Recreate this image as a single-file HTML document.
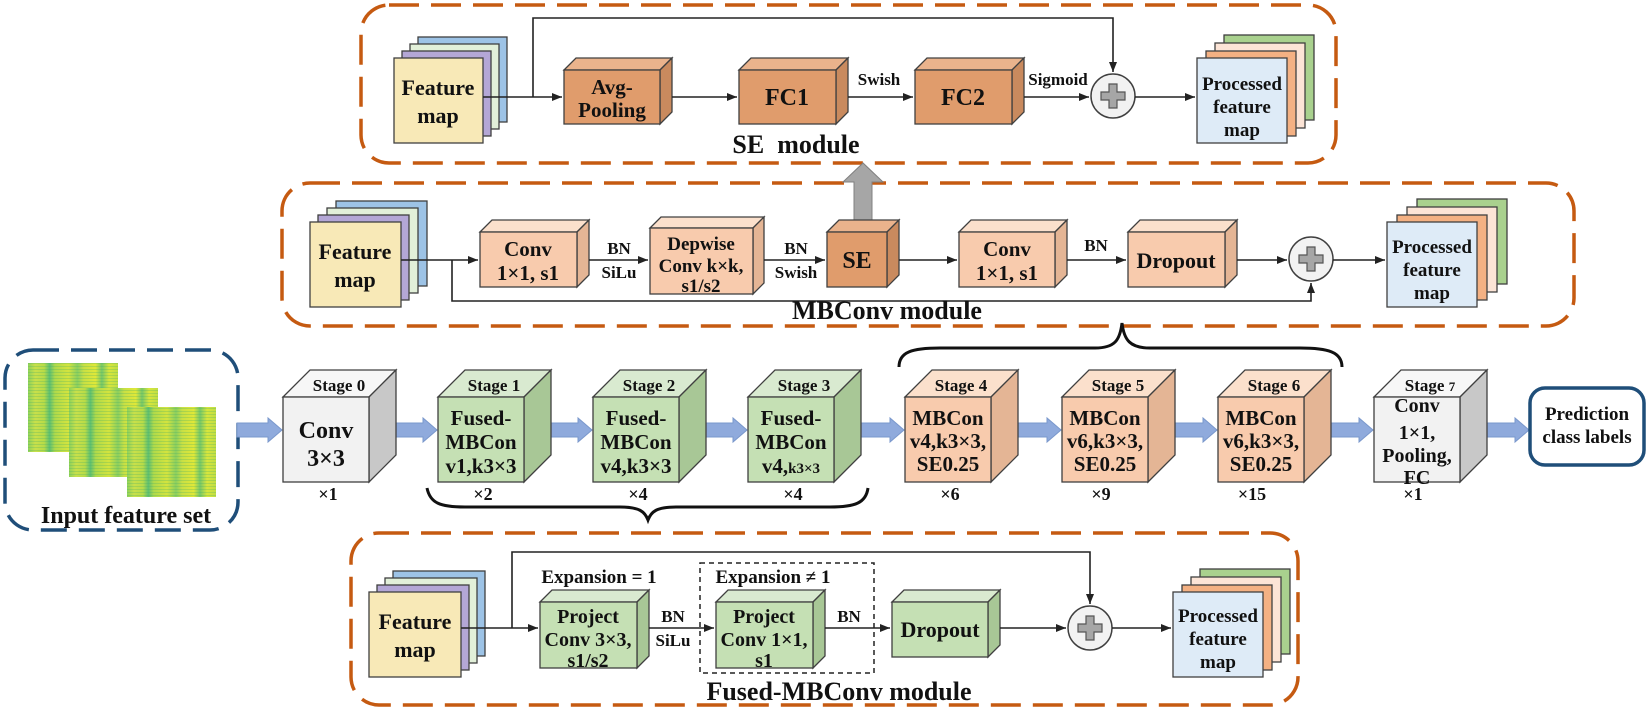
<!DOCTYPE html>
<html><head><meta charset="utf-8"><style>
html,body{margin:0;padding:0;background:#fff;}
svg{display:block;}
text{font-family:"Liberation Serif",serif;font-weight:bold;fill:#111;text-anchor:middle;}
.st{stroke:#404040;stroke-width:1.3;}
.ln{stroke:#222;stroke-width:1.6;fill:none;}
.dor{fill:none;stroke:#c55a11;stroke-width:3.5;stroke-dasharray:30 12;}
.ba{fill:#8faadc;stroke:#7a98cc;stroke-width:1;}
</style></head><body>
<svg width="1651" height="718" viewBox="0 0 1651 718" xmlns="http://www.w3.org/2000/svg">
<defs>
<marker id="ar" viewBox="0 0 10 10" refX="10" refY="5" markerWidth="10" markerHeight="10" markerUnits="userSpaceOnUse" orient="auto"><path d="M0,1 L10,5 L0,9 z" fill="#222"/></marker>
<linearGradient id="spec" x1="0" y1="0" x2="1" y2="0">
<stop offset="0" stop-color="#8fd25a"/><stop offset="0.08" stop-color="#c9e04a"/><stop offset="0.18" stop-color="#b8dc48"/><stop offset="0.24" stop-color="#5fc070"/><stop offset="0.3" stop-color="#b0da4a"/><stop offset="0.45" stop-color="#d4e43e"/><stop offset="0.55" stop-color="#8ccf5e"/><stop offset="0.62" stop-color="#c8e044"/><stop offset="0.75" stop-color="#e0e838"/><stop offset="0.82" stop-color="#78c866"/><stop offset="0.9" stop-color="#d8e63c"/><stop offset="1" stop-color="#c0de44"/>
</linearGradient>
<pattern id="hl" width="4" height="3" patternUnits="userSpaceOnUse"><rect width="4" height="1" fill="#3aa86a" opacity="0.25"/></pattern>
<g id="plus"><circle r="22" fill="#f2f2f2" stroke="#404040" stroke-width="1.5"/><path d="M-4,-12 H4 V-4 H12 V4 H4 V12 H-4 V4 H-12 V-4 H-4 z" fill="#a6a6a6" stroke="#555" stroke-width="1.2"/></g>
</defs>

<!-- ============ SE module ============ -->
<rect class="dor" x="361" y="5" width="975" height="158" rx="28"/>
<rect class="st" x="418" y="37" width="89" height="85" fill="#9dc3e6"/>
<rect class="st" x="410" y="44" width="89" height="85" fill="#e2f0d9"/>
<rect class="st" x="402" y="51" width="89" height="85" fill="#b4a7d6"/>
<rect class="st" x="394" y="58" width="89" height="85" fill="#f8e9b7"/>
<text x="438" y="95" font-size="22">Feature</text><text x="438" y="123" font-size="22">map</text>
<path class="ln" d="M483,97 H562" marker-end="url(#ar)"/>
<path class="ln" d="M533,97 V18 H1113 V72" marker-end="url(#ar)"/>
<polygon class="st" fill="#eab38c" points="564,70 576,58 672,58 660,70"/><polygon class="st" fill="#c98a5e" points="660,70 672,58 672,112 660,124"/><rect class="st" x="564" y="70" width="96" height="54" fill="#e09c6c"/>
<text x="612" y="94" font-size="21">Avg-</text><text x="612" y="117" font-size="21">Pooling</text>
<path class="ln" d="M672,97 H737" marker-end="url(#ar)"/>
<polygon class="st" fill="#eab38c" points="739,70 751,58 848,58 836,70"/><polygon class="st" fill="#c98a5e" points="836,70 848,58 848,112 836,124"/><rect class="st" x="739" y="70" width="97" height="54" fill="#e09c6c"/>
<text x="787" y="105" font-size="24">FC1</text>
<path class="ln" d="M848,97 H913" marker-end="url(#ar)"/><text x="879" y="85" font-size="17">Swish</text>
<polygon class="st" fill="#eab38c" points="915,70 927,58 1024,58 1012,70"/><polygon class="st" fill="#c98a5e" points="1012,70 1024,58 1024,112 1012,124"/><rect class="st" x="915" y="70" width="97" height="54" fill="#e09c6c"/>
<text x="963" y="105" font-size="24">FC2</text>
<path class="ln" d="M1024,97 H1089" marker-end="url(#ar)"/><text x="1058" y="85" font-size="17">Sigmoid</text>
<use href="#plus" x="1113" y="96"/>
<path class="ln" d="M1135,97 H1195" marker-end="url(#ar)"/>
<rect class="st" x="1224" y="35" width="90" height="85" fill="#a9d18e"/>
<rect class="st" x="1215" y="43" width="90" height="85" fill="#fce4d6"/>
<rect class="st" x="1206" y="51" width="90" height="85" fill="#f4b183"/>
<rect class="st" x="1197" y="58" width="90" height="85" fill="#deebf7"/>
<text x="1242" y="90" font-size="19">Processed</text><text x="1242" y="113" font-size="19">feature</text><text x="1242" y="136" font-size="19">map</text>
<text x="796" y="153" font-size="26" xml:space="preserve">SE  module</text>

<!-- ============ MBConv module ============ -->
<rect class="dor" x="282" y="183" width="1292" height="143" rx="28"/>
<polygon points="854,222 872,222 872,182 883,182 863,163 843,182 854,182" fill="#a6a6a6" stroke="#808080" stroke-width="1"/>
<rect class="st" x="336" y="201" width="91" height="85" fill="#9dc3e6"/>
<rect class="st" x="327" y="208" width="91" height="85" fill="#e2f0d9"/>
<rect class="st" x="318" y="215" width="91" height="85" fill="#b4a7d6"/>
<rect class="st" x="310" y="222" width="91" height="85" fill="#f8e9b7"/>
<text x="355" y="259" font-size="22">Feature</text><text x="355" y="287" font-size="22">map</text>
<path class="ln" d="M401,260 H478" marker-end="url(#ar)"/>
<path class="ln" d="M452,260 V301 H1311 V283" marker-end="url(#ar)"/>
<polygon class="st" fill="#fbe0cc" points="480,232 492,220 589,220 577,232"/><polygon class="st" fill="#e4b595" points="577,232 589,220 589,275 577,287"/><rect class="st" x="480" y="232" width="97" height="55" fill="#f8cbad"/>
<text x="528" y="256" font-size="21">Conv</text><text x="528" y="280" font-size="21">1×1, s1</text>
<path class="ln" d="M589,260 H648" marker-end="url(#ar)"/><text x="619" y="254" font-size="17">BN</text><text x="619" y="278" font-size="17">SiLu</text>
<polygon class="st" fill="#fbe0cc" points="650,228 661,217 764,217 753,228"/><polygon class="st" fill="#e4b595" points="753,228 764,217 764,283 753,294"/><rect class="st" x="650" y="228" width="103" height="66" fill="#f8cbad"/>
<text x="701" y="250" font-size="19">Depwise</text><text x="701" y="272" font-size="19">Conv k×k,</text><text x="701" y="292" font-size="19">s1/s2</text>
<path class="ln" d="M764,260 H825" marker-end="url(#ar)"/><text x="796" y="254" font-size="17">BN</text><text x="796" y="278" font-size="17">Swish</text>
<polygon class="st" fill="#eab38c" points="827,232 839,220 899,220 887,232"/><polygon class="st" fill="#c98a5e" points="887,232 899,220 899,275 887,287"/><rect class="st" x="827" y="232" width="60" height="55" fill="#e09c6c"/>
<text x="857" y="268" font-size="24">SE</text>
<path class="ln" d="M899,260 H957" marker-end="url(#ar)"/>
<polygon class="st" fill="#fbe0cc" points="959,232 971,220 1067,220 1055,232"/><polygon class="st" fill="#e4b595" points="1055,232 1067,220 1067,275 1055,287"/><rect class="st" x="959" y="232" width="96" height="55" fill="#f8cbad"/>
<text x="1007" y="256" font-size="21">Conv</text><text x="1007" y="280" font-size="21">1×1, s1</text>
<path class="ln" d="M1067,260 H1126" marker-end="url(#ar)"/><text x="1096" y="251" font-size="17">BN</text>
<polygon class="st" fill="#fbe0cc" points="1128,232 1140,220 1237,220 1225,232"/><polygon class="st" fill="#e4b595" points="1225,232 1237,220 1237,275 1225,287"/><rect class="st" x="1128" y="232" width="97" height="55" fill="#f8cbad"/>
<text x="1176" y="268" font-size="22">Dropout</text>
<path class="ln" d="M1237,260 H1287" marker-end="url(#ar)"/>
<use href="#plus" x="1311" y="259"/>
<path class="ln" d="M1333,260 H1385" marker-end="url(#ar)"/>
<rect class="st" x="1417" y="199" width="90" height="85" fill="#a9d18e"/>
<rect class="st" x="1407" y="207" width="90" height="85" fill="#fce4d6"/>
<rect class="st" x="1397" y="215" width="90" height="85" fill="#f4b183"/>
<rect class="st" x="1387" y="222" width="90" height="85" fill="#deebf7"/>
<text x="1432" y="253" font-size="19">Processed</text><text x="1432" y="276" font-size="19">feature</text><text x="1432" y="299" font-size="19">map</text>
<text x="887" y="319" font-size="26">MBConv module</text>

<!-- ============ Middle row ============ -->
<rect x="5" y="350" width="233" height="180" rx="28" fill="none" stroke="#1f4e79" stroke-width="3.5" stroke-dasharray="26 12"/>
<rect x="28" y="363" width="90" height="89" fill="url(#spec)"/><rect x="28" y="363" width="90" height="89" fill="url(#hl)"/>
<rect x="69" y="388" width="89" height="89" fill="url(#spec)"/><rect x="69" y="388" width="89" height="89" fill="url(#hl)"/>
<rect x="127" y="407" width="89" height="90" fill="url(#spec)"/><rect x="127" y="407" width="89" height="90" fill="url(#hl)"/>
<text x="126" y="523" font-size="24">Input feature set</text>

<polygon class="ba" points="237,423 268,423 268,418 282,430 268,442 268,437 237,437"/>
<polygon class="ba" points="396,423 423,423 423,418 437,430 423,442 423,437 396,437"/>
<polygon class="ba" points="551,423 578,423 578,418 592,430 578,442 578,437 551,437"/>
<polygon class="ba" points="706,423 733,423 733,418 747,430 733,442 733,437 706,437"/>
<polygon class="ba" points="861,423 890,423 890,418 904,430 890,442 890,437 861,437"/>
<polygon class="ba" points="1018,423 1047,423 1047,418 1061,430 1047,442 1047,437 1018,437"/>
<polygon class="ba" points="1175,423 1203,423 1203,418 1217,430 1203,442 1203,437 1175,437"/>
<polygon class="ba" points="1331,423 1359,423 1359,418 1373,430 1359,442 1359,437 1331,437"/>
<polygon class="ba" points="1487,423 1515,423 1515,418 1529,430 1515,442 1515,437 1487,437"/>

<polygon class="st" fill="#f7f7f7" points="283,397 310,370 396,370 369,397"/><polygon class="st" fill="#c8c8c8" points="369,397 396,370 396,455 369,482"/><rect class="st" x="283" y="397" width="86" height="85" fill="#f2f2f2"/>
<text x="339" y="391" font-size="17">Stage 0</text>
<text x="326" y="438" font-size="24">Conv</text><text x="326" y="466" font-size="24">3×3</text>
<polygon class="st" fill="#d9ead0" points="438,397 465,370 551,370 524,397"/><polygon class="st" fill="#a8c796" points="524,397 551,370 551,455 524,482"/><rect class="st" x="438" y="397" width="86" height="85" fill="#c5e0b4"/>
<text x="494" y="391" font-size="17">Stage 1</text>
<text x="481" y="425" font-size="21">Fused-</text><text x="481" y="449" font-size="21">MBCon</text><text x="481" y="473" font-size="21">v1,k3×3</text>
<polygon class="st" fill="#d9ead0" points="593,397 620,370 706,370 679,397"/><polygon class="st" fill="#a8c796" points="679,397 706,370 706,455 679,482"/><rect class="st" x="593" y="397" width="86" height="85" fill="#c5e0b4"/>
<text x="649" y="391" font-size="17">Stage 2</text>
<text x="636" y="425" font-size="21">Fused-</text><text x="636" y="449" font-size="21">MBCon</text><text x="636" y="473" font-size="21">v4,k3×3</text>
<polygon class="st" fill="#d9ead0" points="748,397 775,370 861,370 834,397"/><polygon class="st" fill="#a8c796" points="834,397 861,370 861,455 834,482"/><rect class="st" x="748" y="397" width="86" height="85" fill="#c5e0b4"/>
<text x="804" y="391" font-size="17">Stage 3</text>
<text x="791" y="425" font-size="21">Fused-</text><text x="791" y="449" font-size="21">MBCon</text><text x="791" y="473" font-size="21">v4,<tspan font-size="15">k3×3</tspan></text>
<polygon class="st" fill="#fbe0cc" points="905,397 932,370 1018,370 991,397"/><polygon class="st" fill="#e4b595" points="991,397 1018,370 1018,455 991,482"/><rect class="st" x="905" y="397" width="86" height="85" fill="#f8cbad"/>
<text x="961" y="391" font-size="17">Stage 4</text>
<text x="948" y="425" font-size="21">MBCon</text><text x="948" y="448" font-size="21">v4,k3×3,</text><text x="948" y="471" font-size="21">SE0.25</text>
<polygon class="st" fill="#fbe0cc" points="1062,397 1089,370 1175,370 1148,397"/><polygon class="st" fill="#e4b595" points="1148,397 1175,370 1175,455 1148,482"/><rect class="st" x="1062" y="397" width="86" height="85" fill="#f8cbad"/>
<text x="1118" y="391" font-size="17">Stage 5</text>
<text x="1105" y="425" font-size="21">MBCon</text><text x="1105" y="448" font-size="21">v6,k3×3,</text><text x="1105" y="471" font-size="21">SE0.25</text>
<polygon class="st" fill="#fbe0cc" points="1218,397 1245,370 1331,370 1304,397"/><polygon class="st" fill="#e4b595" points="1304,397 1331,370 1331,455 1304,482"/><rect class="st" x="1218" y="397" width="86" height="85" fill="#f8cbad"/>
<text x="1274" y="391" font-size="17">Stage 6</text>
<text x="1261" y="425" font-size="21">MBCon</text><text x="1261" y="448" font-size="21">v6,k3×3,</text><text x="1261" y="471" font-size="21">SE0.25</text>
<polygon class="st" fill="#f7f7f7" points="1374,397 1401,370 1487,370 1460,397"/><polygon class="st" fill="#c8c8c8" points="1460,397 1487,370 1487,455 1460,482"/><rect class="st" x="1374" y="397" width="86" height="85" fill="#f2f2f2"/>
<text x="1430" y="391" font-size="17">Stage <tspan font-size="13">7</tspan></text>
<text x="1417" y="412" font-size="20">Conv</text><text x="1417" y="439" font-size="20">1×1,</text><text x="1417" y="462" font-size="20">Pooling,</text><text x="1417" y="484" font-size="20">FC</text>

<text x="328" y="500" font-size="18">×1</text>
<text x="483" y="500" font-size="18">×2</text>
<text x="638" y="500" font-size="18">×4</text>
<text x="793" y="500" font-size="18">×4</text>
<text x="950" y="500" font-size="18">×6</text>
<text x="1101" y="500" font-size="18">×9</text>
<text x="1252" y="500" font-size="18">×15</text>
<text x="1413" y="500" font-size="18">×1</text>

<path d="M899,367 C899,352 912,348 940,348 L1095,348 C1115,348 1120,340 1122,323 C1124,340 1130,348 1150,348 L1300,348 C1328,348 1342,352 1342,367" fill="none" stroke="#111" stroke-width="3"/>
<path d="M427,488 C430,503 440,507 465,507 L620,507 C640,507 645,512 648,520 C651,512 656,507 676,507 L830,507 C855,507 866,503 868,488" fill="none" stroke="#111" stroke-width="3"/>

<rect x="1530" y="388" width="114" height="77" rx="15" fill="#fff" stroke="#1f4e79" stroke-width="3.5"/>
<text x="1587" y="420" font-size="19">Prediction</text><text x="1587" y="443" font-size="19">class labels</text>

<!-- ============ Fused-MBConv module ============ -->
<rect class="dor" x="351" y="533" width="947" height="172" rx="28"/>
<rect class="st" x="393" y="571" width="92" height="85" fill="#9dc3e6"/>
<rect class="st" x="385" y="578" width="92" height="85" fill="#e2f0d9"/>
<rect class="st" x="377" y="585" width="92" height="85" fill="#b4a7d6"/>
<rect class="st" x="369" y="592" width="92" height="85" fill="#f8e9b7"/>
<text x="415" y="629" font-size="22">Feature</text><text x="415" y="657" font-size="22">map</text>
<path class="ln" d="M461,628 H538" marker-end="url(#ar)"/>
<path class="ln" d="M512,628 V552 H1090 V604" marker-end="url(#ar)"/>
<text x="599" y="583" font-size="19">Expansion = 1</text>
<polygon class="st" fill="#d9ead0" points="540,602 552,590 649,590 637,602"/><polygon class="st" fill="#a8c796" points="637,602 649,590 649,656 637,668"/><rect class="st" x="540" y="602" width="97" height="66" fill="#c5e0b4"/>
<text x="588" y="623" font-size="20">Project</text><text x="588" y="646" font-size="20">Conv 3×3,</text><text x="588" y="667" font-size="20">s1/s2</text>
<path class="ln" d="M649,628 H714" marker-end="url(#ar)"/><text x="673" y="622" font-size="17">BN</text><text x="673" y="646" font-size="17">SiLu</text>
<rect x="700" y="563" width="174" height="110" fill="none" stroke="#222" stroke-width="1.5" stroke-dasharray="5 4"/>
<text x="773" y="583" font-size="19">Expansion ≠ 1</text>
<polygon class="st" fill="#d9ead0" points="716,602 728,590 825,590 813,602"/><polygon class="st" fill="#a8c796" points="813,602 825,590 825,656 813,668"/><rect class="st" x="716" y="602" width="97" height="66" fill="#c5e0b4"/>
<text x="764" y="623" font-size="20">Project</text><text x="764" y="646" font-size="20">Conv 1×1,</text><text x="764" y="667" font-size="20">s1</text>
<path class="ln" d="M825,628 H890" marker-end="url(#ar)"/><text x="849" y="622" font-size="17">BN</text>
<polygon class="st" fill="#d9ead0" points="892,602 904,590 1000,590 988,602"/><polygon class="st" fill="#a8c796" points="988,602 1000,590 1000,645 988,657"/><rect class="st" x="892" y="602" width="96" height="55" fill="#c5e0b4"/>
<text x="940" y="637" font-size="22">Dropout</text>
<path class="ln" d="M1000,628 H1066" marker-end="url(#ar)"/>
<use href="#plus" x="1090" y="628"/>
<path class="ln" d="M1112,628 H1171" marker-end="url(#ar)"/>
<rect class="st" x="1200" y="569" width="90" height="85" fill="#a9d18e"/>
<rect class="st" x="1191" y="577" width="90" height="85" fill="#fce4d6"/>
<rect class="st" x="1182" y="585" width="90" height="85" fill="#f4b183"/>
<rect class="st" x="1173" y="592" width="90" height="85" fill="#deebf7"/>
<text x="1218" y="622" font-size="19">Processed</text><text x="1218" y="645" font-size="19">feature</text><text x="1218" y="668" font-size="19">map</text>
<text x="839" y="700" font-size="26">Fused-MBConv module</text>
</svg>
</body></html>
